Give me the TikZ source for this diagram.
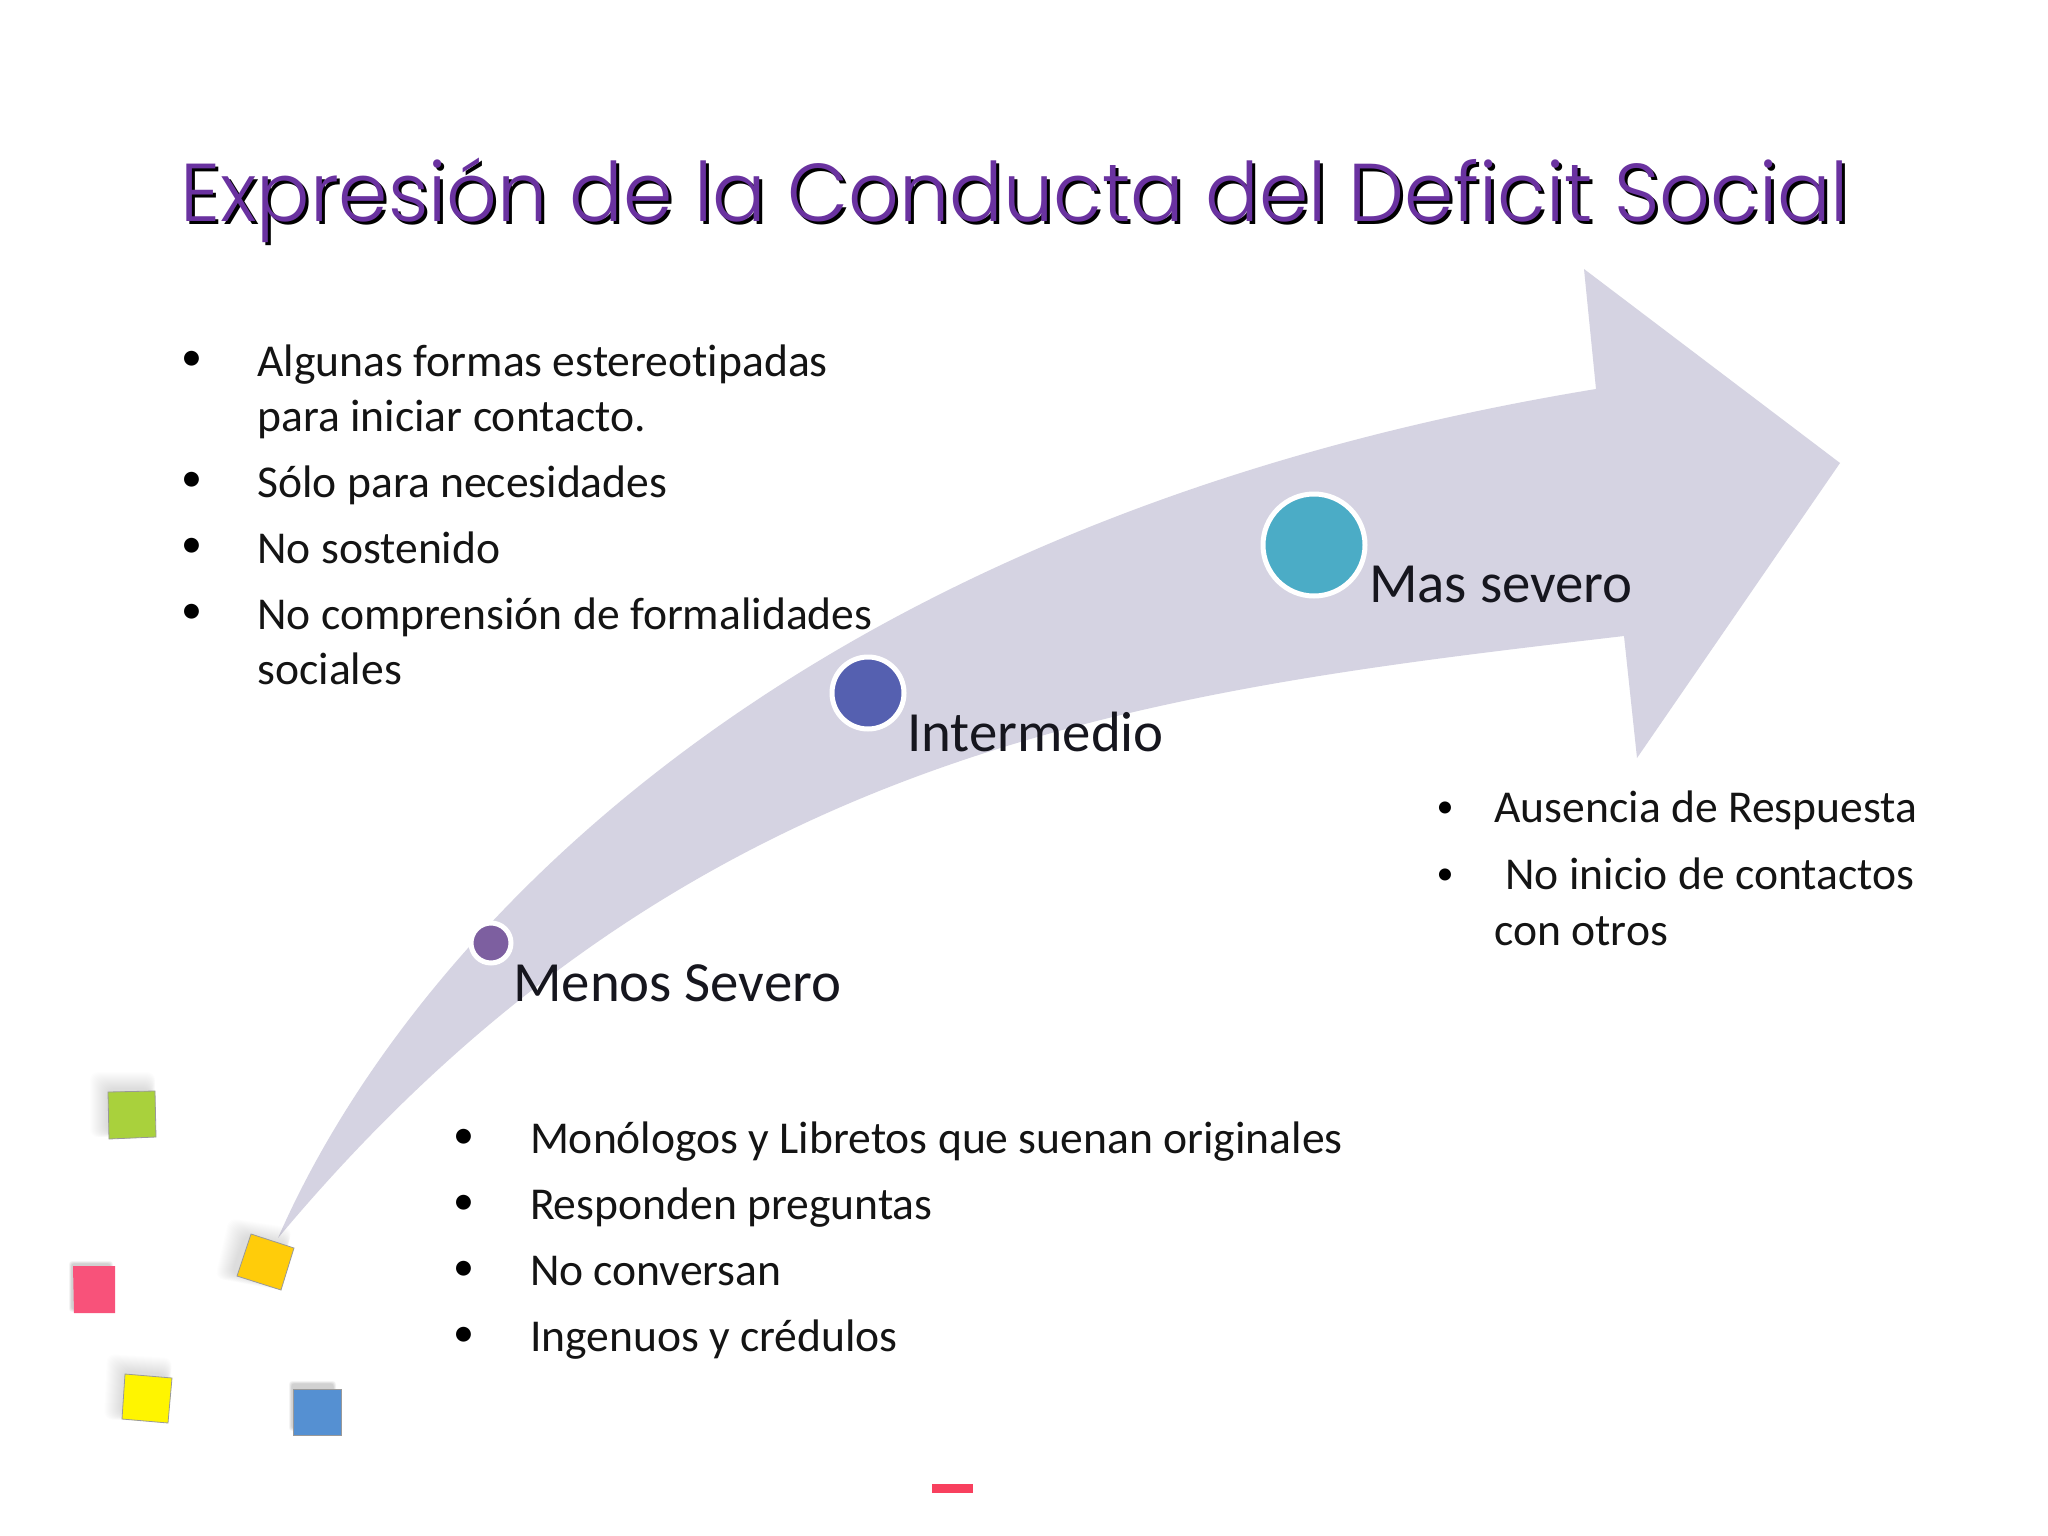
\documentclass[tikz,border=0pt]{standalone}
\usepackage{fontspec}
\setmainfont[Ligatures=NoCommon]{Carlito}
\newfontfamily\titlefont{Poppins Light}
\usetikzlibrary{calc}
\definecolor{arrowfill}{HTML}{D5D3E2}
\definecolor{titlepurple}{HTML}{6A32A0}
\definecolor{bodyink}{HTML}{141414}
\definecolor{labelink}{HTML}{16161E}
\definecolor{sqgreen}{HTML}{A9D13C}
\definecolor{sqorange}{HTML}{FFCC0A}
\definecolor{sqpink}{HTML}{F8527A}
\definecolor{sqyellow}{HTML}{FFF500}
\definecolor{sqblue}{HTML}{5590D2}
\definecolor{sqred}{HTML}{F8405E}
\definecolor{dotpurple}{HTML}{7D5FA0}
\definecolor{dotblue}{HTML}{5560B0}
\definecolor{dotteal}{HTML}{4BACC6}
\tikzset{
  x=1pt,y=-1pt,
  bodytext/.style={anchor=base west,inner sep=0pt,outer sep=0pt,text=bodyink,font=\fontsize{45.6}{46}\selectfont},
  bulletmark/.style={anchor=center,inner sep=0pt,text=black,font=\fontsize{42}{42}\selectfont},
  stagelabel/.style={anchor=base west,inner sep=0pt,text=labelink,font=\fontsize{56.8}{57}\selectfont},
  stagedot/.style={circle,draw=white,line width=5pt,inner sep=0pt},
  titletext/.style={anchor=base west,inner sep=0pt,xscale=0.967,font=\titlefont\fontsize{82}{82}\selectfont},
  sq/.style={draw=black!40,line width=0.8pt},
  sqshadow/.style={fill=black,opacity=0.009,rounded corners=8pt},
  sqtight/.style={fill=black,opacity=0.03,rounded corners=3pt},
}
\begin{document}
\begin{tikzpicture}
\useasboundingbox (0,0) rectangle (2048,1536);
\fill[white] (0,0) rectangle (2048,1536);
% arrow
\fill[arrowfill] (278,1238)
  .. controls (410,936) and (796,520) .. (1596,389)
  -- (1584,269) -- (1840,463) -- (1637,758) -- (1624,636)
  .. controls (1145,692) and (690,745) .. (278,1238) -- cycle;
% title
\node[titletext,text=black] (titleshadow) at (183,224) {Expresión de la Conducta del Deficit Social};
\node[titletext,text=titlepurple] (titlemain) at (180,221) {Expresión de la Conducta del Deficit Social};
% stages
\node[stagedot,fill=dotpurple,minimum size=40pt] (dotA) at (491,943) {};
\node[stagedot,fill=dotblue,minimum size=72pt] (dotB) at (868,693) {};
\node[stagedot,fill=dotteal,minimum size=102pt] (dotC) at (1314,545) {};
\node[stagelabel] (labA) at (513,1001.5) {Menos Severo};
\node[stagelabel] (labB) at (907,751.5) {Intermedio};
\node[stagelabel] (labC) at (1369,602) {Mas severo};
% upper left list
\node[bulletmark] (b1) at (192,361) {•};
\node[bodytext] (t1a) at (257.5,376) {Algunas formas estereotipadas};
\node[bodytext] (t1b) at (257.5,431) {para iniciar contacto.};
\node[bulletmark] (b2) at (192,482) {•};
\node[bodytext] (t2) at (257.5,497) {Sólo para necesidades};
\node[bulletmark] (b3) at (192,548) {•};
\node[bodytext] (t3) at (257.5,563) {No sostenido};
\node[bulletmark] (b4) at (192,614) {•};
\node[bodytext] (t4a) at (257.5,629) {No comprensión de formalidades};
\node[bodytext] (t4b) at (257.5,684) {sociales};
% right list
\node[bulletmark,font=\fontsize{34}{34}\selectfont] (r1) at (1445,810) {•};
\node[bodytext] (r1t) at (1494.5,822) {Ausencia de Respuesta};
\node[bulletmark,font=\fontsize{34}{34}\selectfont] (r2) at (1445,877) {•};
\node[bodytext] (r2t) at (1505.5,889) {No inicio de contactos};
\node[bodytext] (r2u) at (1494.5,945) {con otros};
% lower list
\node[bulletmark] (c1) at (463.5,1139) {•};
\node[bodytext] (c1t) at (530,1153) {Monólogos y Libretos que suenan originales};
\node[bulletmark] (c2) at (463.5,1205) {•};
\node[bodytext] (c2t) at (530,1219) {Responden preguntas};
\node[bulletmark] (c3) at (463.5,1271) {•};
\node[bodytext] (c3t) at (530,1285) {No conversan};
\node[bulletmark] (c4) at (463.5,1337) {•};
\node[bodytext] (c4t) at (530,1351) {Ingenuos y crédulos};
% squares with soft shadows
\foreach \g in {-2,-1,...,14}{
  \fill[sqshadow] ($(108,1092)+(-4-\g,-6-\g)$) rectangle ($(155,1137)+(-4+\g*0.3,-4+\g*0.3)$);
  \fill[sqshadow] ($(251,1234)+(-8-\g,-2-\g)$) -- ($(294,1248)+(-6+\g*0.3,-6-\g)$) -- ($(281,1290)+(-6+\g*0.3,-4+\g*0.3)$) -- ($(237,1276)+(-8-\g,-2+\g*0.3)$) -- cycle;
  \fill[sqshadow] ($(125,1374)+(-4-\g,-6-\g)$) -- ($(172,1378)+(-4+\g*0.3,-6-\g)$) -- ($(168,1423)+(-4+\g*0.3,-4+\g*0.3)$) -- ($(122,1419)+(-4-\g,-4+\g*0.3)$) -- cycle;
}
\foreach \g in {-2,0,2,4,6,8}{
  \fill[sqtight] ($(73,1266)+(-2-\g*0.25,-3-\g*0.25)$) rectangle ($(113,1313)+(-2+\g*0.25,-3+\g*0.25)$);
  \fill[sqtight] ($(293,1389)+(-2-\g*0.25,-6-\g*0.25)$) rectangle ($(336,1435)+(-2+\g*0.25,-6+\g*0.25)$);
}
\draw[sq,fill=sqgreen] (108,1092) -- (155,1091) -- (156,1137) -- (109,1139) -- cycle;
\draw[sq,fill=sqorange] (251,1234) -- (294,1248) -- (281,1290) -- (237,1276) -- cycle;
\fill[sqpink] (73,1266) -- (115,1266) -- (115,1313) -- (74,1313) -- cycle;
\draw[sq,fill=sqyellow] (125,1374) -- (172,1378) -- (168,1423) -- (122,1419) -- cycle;
\draw[sq,fill=sqblue] (293,1389) -- (341,1389) -- (341,1435) -- (293,1435) -- cycle;
\fill[sqred] (932,1484) rectangle (973,1493);
\end{tikzpicture}
\end{document}
